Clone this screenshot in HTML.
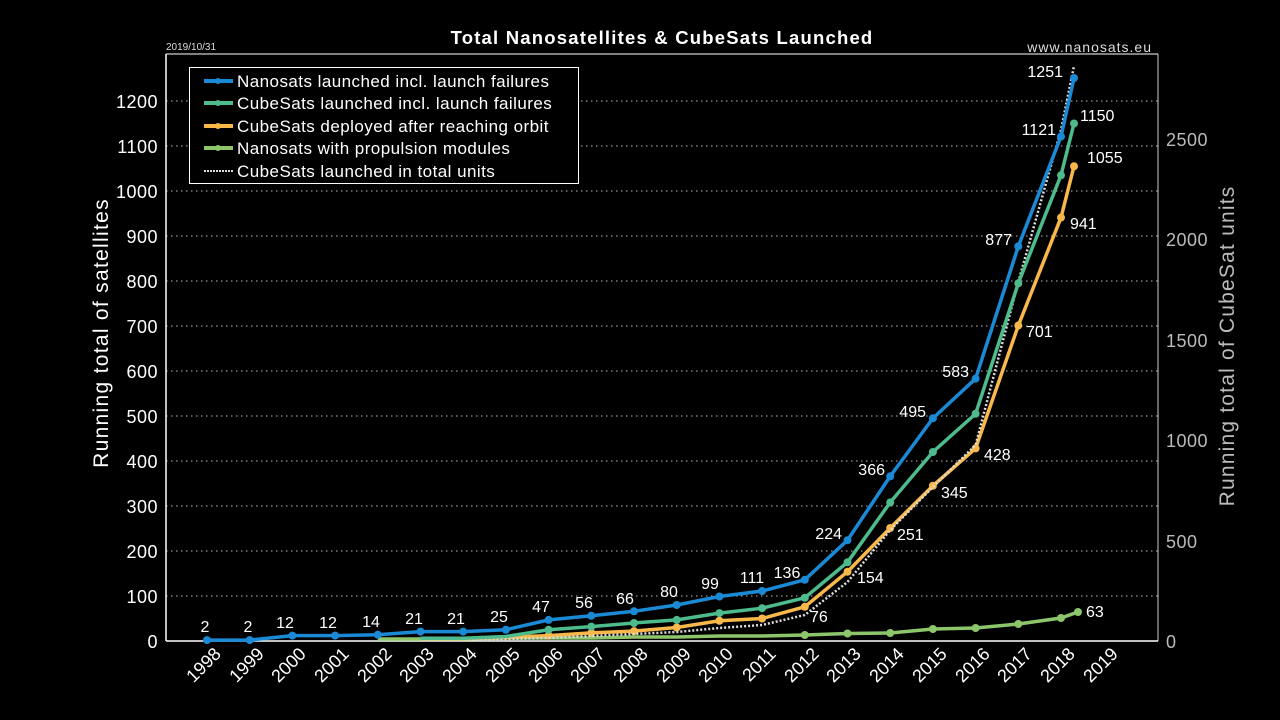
<!DOCTYPE html>
<html><head><meta charset="utf-8"><style>
html,body{margin:0;padding:0;background:#000;}
svg{display:block;font-family:"Liberation Sans",sans-serif;}
</style></head><body>
<svg width="1280" height="720" viewBox="0 0 1280 720" xmlns="http://www.w3.org/2000/svg">
<rect width="1280" height="720" fill="#000"/>
<text x="662" y="44" fill="#fff" font-size="18.5" font-weight="bold" text-anchor="middle" letter-spacing="1.2">Total Nanosatellites &amp; CubeSats Launched</text>
<text x="166" y="50" fill="#ddd" font-size="10">2019/10/31</text>
<text x="1152" y="52" fill="#ddd" font-size="14" text-anchor="end" letter-spacing="1">www.nanosats.eu</text>
<!-- grid -->
<g stroke="#bbb" stroke-width="1" stroke-dasharray="1.5,3.5">
<line x1="166" x2="1158" y1="596" y2="596"/><line x1="166" x2="1158" y1="551" y2="551"/>
<line x1="166" x2="1158" y1="506" y2="506"/><line x1="166" x2="1158" y1="461" y2="461"/>
<line x1="166" x2="1158" y1="416" y2="416"/><line x1="166" x2="1158" y1="371" y2="371"/>
<line x1="166" x2="1158" y1="326" y2="326"/><line x1="166" x2="1158" y1="281" y2="281"/>
<line x1="166" x2="1158" y1="236" y2="236"/><line x1="166" x2="1158" y1="191" y2="191"/>
<line x1="166" x2="1158" y1="146" y2="146"/><line x1="166" x2="1158" y1="101" y2="101"/>
</g>
<line x1="166" y1="54" x2="1158" y2="54" stroke="#fff" stroke-width="1"/>
<line x1="166" y1="54" x2="166" y2="641" stroke="#fff" stroke-width="1.5"/>
<line x1="1158" y1="54" x2="1158" y2="641" stroke="#ccc" stroke-width="1"/>
<line x1="166" y1="641" x2="1158" y2="641" stroke="#fff" stroke-width="1.5"/>
<!-- left ticks -->
<g fill="#fff" font-size="18" text-anchor="end" letter-spacing="0.5">
<text x="158" y="648">0</text><text x="158" y="603">100</text><text x="158" y="558">200</text>
<text x="158" y="513">300</text><text x="158" y="468">400</text><text x="158" y="423">500</text>
<text x="158" y="378">600</text><text x="158" y="333">700</text><text x="158" y="288">800</text>
<text x="158" y="243">900</text><text x="158" y="198">1000</text><text x="158" y="153">1100</text>
<text x="158" y="108">1200</text>
</g>
<g fill="#bbb" font-size="18" letter-spacing="0.5">
<text x="1166" y="648">0</text><text x="1166" y="548">500</text><text x="1166" y="447">1000</text>
<text x="1166" y="347">1500</text><text x="1166" y="246">2000</text><text x="1166" y="146">2500</text>
</g>
<text transform="translate(108,333) rotate(-90)" fill="#fff" font-size="21" text-anchor="middle" letter-spacing="1.3">Running total of satellites</text>
<text transform="translate(1234,346) rotate(-90)" fill="#bbb" font-size="21" text-anchor="middle" letter-spacing="1.2">Running total of CubeSat units</text>
<!-- x labels -->
<g fill="#fff" font-size="18" text-anchor="end">
<text transform="translate(222,655) rotate(-45)">1998</text>
<text transform="translate(265,655) rotate(-45)">1999</text>
<text transform="translate(307,655) rotate(-45)">2000</text>
<text transform="translate(350,655) rotate(-45)">2001</text>
<text transform="translate(393,655) rotate(-45)">2002</text>
<text transform="translate(435,655) rotate(-45)">2003</text>
<text transform="translate(478,655) rotate(-45)">2004</text>
<text transform="translate(521,655) rotate(-45)">2005</text>
<text transform="translate(564,655) rotate(-45)">2006</text>
<text transform="translate(606,655) rotate(-45)">2007</text>
<text transform="translate(649,655) rotate(-45)">2008</text>
<text transform="translate(692,655) rotate(-45)">2009</text>
<text transform="translate(734,655) rotate(-45)">2010</text>
<text transform="translate(777,655) rotate(-45)">2011</text>
<text transform="translate(820,655) rotate(-45)">2012</text>
<text transform="translate(862,655) rotate(-45)">2013</text>
<text transform="translate(905,655) rotate(-45)">2014</text>
<text transform="translate(948,655) rotate(-45)">2015</text>
<text transform="translate(991,655) rotate(-45)">2016</text>
<text transform="translate(1033,655) rotate(-45)">2017</text>
<text transform="translate(1076,655) rotate(-45)">2018</text>
<text transform="translate(1119,655) rotate(-45)">2019</text>
</g>
<!-- series -->
<polyline fill="none" stroke="#8cc56a" stroke-width="3.5" points="377.8,639 420.5,639 463.2,639 505.9,638 548.6,638 591.3,638 634,637 676.7,637 719.4,636 762.1,636 804.8,635 847.5,633.5 890.2,633 932.9,629 975.6,628 1018.3,624 1061,618 1078,612"/>
<g fill="#8cc56a"><circle cx="804.8" cy="635" r="4"/><circle cx="847.5" cy="633.5" r="4"/><circle cx="890.2" cy="633" r="4"/><circle cx="932.9" cy="629" r="4"/><circle cx="975.6" cy="628" r="4"/><circle cx="1018.3" cy="624" r="4"/><circle cx="1061" cy="618" r="4"/><circle cx="1078" cy="612" r="4"/></g>
<polyline fill="none" stroke="#f9b84a" stroke-width="3.5" points="420.5,638.75 463.2,638.75 505.9,637.4 548.6,635.6 591.3,632.9 634,631.1 676.7,627.5 719.4,620.75 762.1,618.5 804.8,606.8 847.5,571.7 890.2,528 932.9,485.75 975.6,448.4 1018.3,325.55 1061,217.55 1074,166.25"/>
<g fill="#f9b84a"><circle cx="548.6" cy="635.6" r="4"/><circle cx="591.3" cy="632.9" r="4"/><circle cx="634" cy="631.1" r="4"/><circle cx="676.7" cy="627.5" r="4"/><circle cx="719.4" cy="620.75" r="4"/><circle cx="762.1" cy="618.5" r="4"/><circle cx="804.8" cy="606.8" r="4"/><circle cx="847.5" cy="571.7" r="4"/><circle cx="890.2" cy="528" r="4"/><circle cx="932.9" cy="485.75" r="4"/><circle cx="975.6" cy="448.4" r="4"/><circle cx="1018.3" cy="325.55" r="4"/><circle cx="1061" cy="217.55" r="4"/><circle cx="1074" cy="166.25" r="4"/></g>
<polyline fill="none" stroke="#ddd" stroke-width="2.5" stroke-dasharray="2,2" points="420.5,639 463.2,639 505.9,639 548.6,638 591.3,636 634,634 676.7,632 719.4,628 762.1,625 804.8,615 847.5,582 890.2,530 932.9,487 975.6,445 1018.3,282 1061,130 1074,66"/>
<polyline fill="none" stroke="#4dbb8c" stroke-width="3.5" points="420.5,638.3 463.2,638.3 505.9,636.5 548.6,629.75 591.3,626.6 634,623 676.7,619.9 719.4,613.1 762.1,608.2 804.8,597.8 847.5,562.25 890.2,502.4 932.9,452 975.6,413.75 1018.3,283.25 1061,175.25 1074,123.5"/>
<g fill="#4dbb8c"><circle cx="548.6" cy="629.75" r="4"/><circle cx="591.3" cy="626.6" r="4"/><circle cx="634" cy="623" r="4"/><circle cx="676.7" cy="619.9" r="4"/><circle cx="719.4" cy="613.1" r="4"/><circle cx="762.1" cy="608.2" r="4"/><circle cx="804.8" cy="597.8" r="4"/><circle cx="847.5" cy="562.25" r="4"/><circle cx="890.2" cy="502.4" r="4"/><circle cx="932.9" cy="452" r="4"/><circle cx="975.6" cy="413.75" r="4"/><circle cx="1018.3" cy="283.25" r="4"/><circle cx="1061" cy="175.25" r="4"/><circle cx="1074" cy="123.5" r="4"/></g>
<polyline fill="none" stroke="#1b8ad6" stroke-width="3.5" points="207,640.1 249.7,640.1 292.4,635.6 335.1,635.6 377.8,634.7 420.5,631.6 463.2,631.6 505.9,629.75 548.6,619.9 591.3,615.8 634,611.3 676.7,605 719.4,596.5 762.1,591 804.8,579.8 847.5,540.2 890.2,476.3 932.9,418.25 975.6,378.65 1018.3,246.35 1061,136.55 1074,78.05"/>
<g fill="#1b8ad6"><circle cx="207" cy="640.1" r="4"/><circle cx="249.7" cy="640.1" r="4"/><circle cx="292.4" cy="635.6" r="4"/><circle cx="335.1" cy="635.6" r="4"/><circle cx="377.8" cy="634.7" r="4"/><circle cx="420.5" cy="631.6" r="4"/><circle cx="463.2" cy="631.6" r="4"/><circle cx="505.9" cy="629.75" r="4"/><circle cx="548.6" cy="619.9" r="4"/><circle cx="591.3" cy="615.8" r="4"/><circle cx="634" cy="611.3" r="4"/><circle cx="676.7" cy="605" r="4"/><circle cx="719.4" cy="596.5" r="4"/><circle cx="762.1" cy="591" r="4"/><circle cx="804.8" cy="579.8" r="4"/><circle cx="847.5" cy="540.2" r="4"/><circle cx="890.2" cy="476.3" r="4"/><circle cx="932.9" cy="418.25" r="4"/><circle cx="975.6" cy="378.65" r="4"/><circle cx="1018.3" cy="246.35" r="4"/><circle cx="1061" cy="136.55" r="4"/><circle cx="1074" cy="78.05" r="4"/></g>
<!-- value labels -->
<g fill="#fff" font-size="16" text-anchor="middle">
<text x="205" y="632">2</text><text x="248" y="632">2</text><text x="285" y="628">12</text>
<text x="328" y="628">12</text><text x="371" y="627">14</text><text x="414" y="624">21</text>
<text x="456" y="624">21</text><text x="499" y="622">25</text><text x="541" y="612">47</text>
<text x="584" y="608">56</text><text x="625" y="604">66</text><text x="669" y="597">80</text>
<text x="710" y="589">99</text><text x="752" y="583">111</text><text x="787" y="578">136</text>
</g>
<g fill="#fff" font-size="16" text-anchor="end">
<text x="842" y="539">224</text><text x="885" y="475">366</text><text x="926" y="417">495</text>
<text x="969" y="377">583</text><text x="1012" y="245">877</text><text x="1056" y="135">1121</text>
<text x="1063" y="77">1251</text>
</g>
<g fill="#fff" font-size="16">
<text x="810" y="622">76</text><text x="857" y="583">154</text><text x="897" y="540">251</text>
<text x="941" y="498">345</text><text x="984" y="460">428</text><text x="1026" y="337">701</text>
<text x="1070" y="229">941</text><text x="1087" y="163">1055</text><text x="1080" y="121">1150</text>
<text x="1086" y="617">63</text>
</g>
<!-- legend -->
<rect x="189.5" y="67.5" width="389" height="116" fill="#000" stroke="#fff" stroke-width="1"/>
<g stroke-width="4">
<line x1="204" x2="233" y1="81" y2="81" stroke="#1b8ad6"/>
<line x1="204" x2="233" y1="103" y2="103" stroke="#4dbb8c"/>
<line x1="204" x2="233" y1="126" y2="126" stroke="#f9b84a"/>
<line x1="204" x2="233" y1="148" y2="148" stroke="#8cc56a"/>
<line x1="204" x2="233" y1="171" y2="171" stroke="#ddd" stroke-width="2" stroke-dasharray="2,1"/>
</g>
<circle cx="218" cy="81" r="3" fill="#1b8ad6"/><circle cx="218" cy="103" r="3" fill="#4dbb8c"/>
<circle cx="218" cy="126" r="3" fill="#f9b84a"/><circle cx="218" cy="148" r="3" fill="#8cc56a"/>
<g fill="#fff" font-size="17" letter-spacing="0.45">
<text x="237" y="87">Nanosats launched incl. launch failures</text>
<text x="237" y="109">CubeSats launched incl. launch failures</text>
<text x="237" y="132">CubeSats deployed after reaching orbit</text>
<text x="237" y="154">Nanosats with propulsion modules</text>
<text x="237" y="177">CubeSats launched in total units</text>
</g>
</svg>
</body></html>
